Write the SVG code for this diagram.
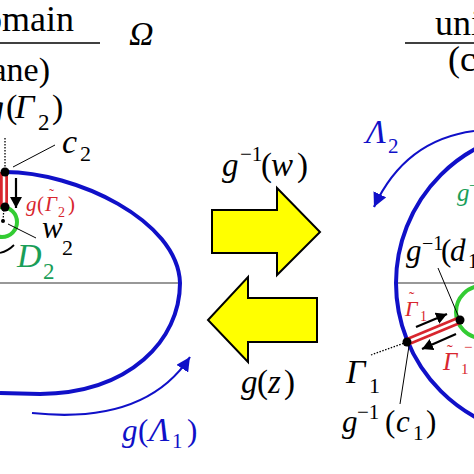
<svg xmlns="http://www.w3.org/2000/svg" width="474" height="474" viewBox="0 0 474 474">
<style>
.t{font-family:"Liberation Serif","Times New Roman",serif;fill:#000}
.i{font-style:italic}
.b{fill:#1010c8}
.r{fill:#d8262e}
.g{fill:#1a9e58}
.lead{stroke:#000;stroke-width:1;fill:none}
.dot{stroke:#000;stroke-width:1.3;stroke-dasharray:1.5 1.5;fill:none}
.bnd{stroke:#1010c8;stroke-width:4;fill:none}
.barc{stroke:#1010c8;stroke-width:2.2;fill:none}
.axis{stroke:#333;stroke-width:1.2}
.yel{fill:#ffff00;stroke:#000;stroke-width:2}
.ring{stroke:#33cc33;stroke-width:4;fill:none}
.karr{stroke:#000;stroke-width:2.2;fill:none}
</style>
<defs>
<marker id="ab" markerUnits="userSpaceOnUse" markerWidth="16" markerHeight="14" refX="14" refY="7" orient="auto"><path d="M0,0 L14,7 L0,14 Z" fill="#1010c8"/></marker>
<marker id="ak" markerUnits="userSpaceOnUse" markerWidth="12" markerHeight="12" refX="11" refY="6" orient="auto"><path d="M0,0 L11,6 L0,12 Z" fill="#000"/></marker>
</defs>

<g id="left-title">
<text class="t" x="74" y="31" font-size="36" text-anchor="end">omain</text>
<line x1="0" y1="43" x2="100" y2="43" stroke="#000" stroke-width="1.6"/>
<text class="t" x="50" y="81" font-size="34" text-anchor="end">ane)</text>
<text class="t i" x="129" y="45" font-size="34">Ω</text>
</g>

<g id="right-title">
<text class="t" x="435" y="35" font-size="36">uni</text>
<line x1="405" y1="43" x2="474" y2="43" stroke="#000" stroke-width="1.6"/>
<text class="t" x="448" y="71" font-size="36">(c</text>
</g>

<g id="z-domain">
<line class="axis" x1="0" y1="283" x2="180" y2="283"/>
<path class="bnd" d="M5,172 C75,172 178,220 180,283 C180,340 130,393 40,394 L0,393"/>
<circle class="ring" cx="2" cy="222" r="15"/>
<path d="M0,253 Q8,251 14,245" stroke="#000" stroke-width="1.8" fill="none"/>
</g>

<g id="unit-disk">
<line class="axis" x1="396" y1="283" x2="474" y2="283"/>
<circle class="bnd" cx="549" cy="283" r="153"/>
<circle class="ring" cx="482" cy="312" r="26"/>
</g>

<g id="cut-g-gamma2">
<line x1="4" y1="172" x2="4" y2="207" stroke="#d8262e" stroke-width="8"/>
<line x1="4" y1="172" x2="4" y2="207" stroke="#fff" stroke-width="2.5"/>
</g>

<g id="cut-gamma1">
<line x1="407" y1="342" x2="460" y2="320" stroke="#d8262e" stroke-width="8"/>
<line x1="407" y1="342" x2="460" y2="320" stroke="#fff" stroke-width="2.5"/>
</g>

<g id="map-arrows">
<polygon class="yel" points="212,210 277,210 277,188 320,232 277,275 277,253 212,253"/>
<polygon class="yel" points="317,298 248,298 248,277 208,320 248,362 248,342 317,342"/>
</g>

<g id="connectors">
<line class="dot" x1="5" y1="138" x2="5" y2="172"/>
<line class="dot" x1="4" y1="207" x2="3" y2="221"/>
<line class="lead" x1="13" y1="167" x2="55" y2="145"/>
<line class="lead" x1="8" y1="224" x2="36" y2="238"/>
<line class="karr" x1="16" y1="178" x2="16" y2="208" marker-end="url(#ak)"/>
<path class="barc" d="M32,413 Q145,425 190,357" marker-end="url(#ab)"/>
<path class="barc" d="M474,131 Q405,140 374,207" marker-end="url(#ab)"/>
<line class="lead" x1="438" y1="268" x2="460" y2="320"/>
<line class="dot" x1="371" y1="355" x2="407" y2="342"/>
<line class="lead" x1="409" y1="346" x2="400" y2="404"/>
<line class="karr" x1="416" y1="327" x2="447" y2="314" marker-end="url(#ak)"/>
<line class="karr" x1="456" y1="334" x2="422" y2="349" marker-end="url(#ak)"/>
<circle cx="5" cy="172" r="4.5"/>
<circle cx="5" cy="207" r="4.5"/>
<circle cx="3" cy="221" r="2"/>
<circle cx="407" cy="342" r="4.5"/>
<circle cx="460" cy="320" r="4.5"/>
</g>

<g id="label-g-Gamma2">
<text class="t" y="118" font-size="34"><tspan class="i" x="-13">g</tspan><tspan x="6">(</tspan><tspan class="i" x="15">Γ</tspan><tspan x="38" y="130" font-size="23">2</tspan><tspan x="52" y="118">)</tspan></text>
</g>
<g id="label-c2">
<text class="t" y="153" font-size="34"><tspan class="i" x="62">c</tspan><tspan x="80" y="161" font-size="22">2</tspan></text>
</g>
<g id="label-gGt2">
<text class="t r" y="211" font-size="21"><tspan class="i" x="26">g</tspan><tspan x="37">(</tspan><tspan x="49" y="199" font-size="15">˜</tspan><tspan class="i" x="45" y="211">Γ</tspan><tspan x="58" y="217" font-size="14">2</tspan><tspan x="68" y="211">)</tspan></text>
</g>
<g id="label-w2">
<text class="t" y="238" font-size="31"><tspan class="i" x="42">w</tspan><tspan x="62" y="255" font-size="22">2</tspan></text>
</g>
<g id="label-D2">
<text class="t g" y="267" font-size="34"><tspan class="i" x="17">D</tspan><tspan x="43" y="279" font-size="23">2</tspan></text>
</g>
<g id="label-gLambda1">
<text class="t b" y="441" font-size="31"><tspan class="i" x="122">g</tspan><tspan x="138">(</tspan><tspan class="i" x="149" font-size="34">Λ</tspan><tspan x="172" y="448" font-size="21">1</tspan><tspan x="187" y="441">)</tspan></text>
</g>
<g id="label-ginv-w">
<text class="t" y="176" font-size="33"><tspan class="i" x="222">g</tspan><tspan x="240" y="161" font-size="21">−1</tspan><tspan x="261" y="176">(</tspan><tspan class="i" x="271">w</tspan><tspan x="297">)</tspan></text>
</g>
<g id="label-g-z">
<text class="t" y="393" font-size="33"><tspan class="i" x="241">g</tspan><tspan x="257">(</tspan><tspan class="i" x="268">z</tspan><tspan x="284">)</tspan></text>
</g>
<g id="label-Lambda2">
<text class="t b" y="143" font-size="33"><tspan class="i" x="366">Λ</tspan><tspan x="388" y="153" font-size="21">2</tspan></text>
</g>
<g id="label-ginv-D2">
<text class="t g" y="201" font-size="25"><tspan class="i" x="457">g</tspan><tspan x="469" y="191" font-size="16">−</tspan></text>
</g>
<g id="label-ginv-d1">
<text class="t" y="261" font-size="31"><tspan class="i" x="406">g</tspan><tspan x="422" y="250" font-size="20">−1</tspan><tspan x="441" y="261">(</tspan><tspan class="i" x="450">d</tspan><tspan x="468" y="268" font-size="20">1</tspan></text>
</g>
<g id="label-Gt1">
<text class="t r" y="316" font-size="22"><tspan x="409" y="303" font-size="16">˜</tspan><tspan class="i" x="405" y="316">Γ</tspan><tspan x="420" y="321" font-size="14">1</tspan></text>
</g>
<g id="label-Gt1-minus">
<text class="t r" y="370" font-size="25"><tspan x="447" y="356" font-size="17">˜</tspan><tspan class="i" x="443" y="370">Γ</tspan><tspan x="461" y="374" font-size="15">1</tspan><tspan x="464" y="352" font-size="15">−</tspan></text>
</g>
<g id="label-Gamma1">
<text class="t" y="383" font-size="34"><tspan class="i" x="346">Γ</tspan><tspan x="369" y="393" font-size="22">1</tspan></text>
</g>
<g id="label-ginv-c1">
<text class="t" y="432" font-size="31"><tspan class="i" x="342">g</tspan><tspan x="357" y="419" font-size="21">−1</tspan><tspan x="385" y="432">(</tspan><tspan class="i" x="396">c</tspan><tspan x="413" y="440" font-size="21">1</tspan><tspan x="426" y="432">)</tspan></text>
</g>
</svg>
